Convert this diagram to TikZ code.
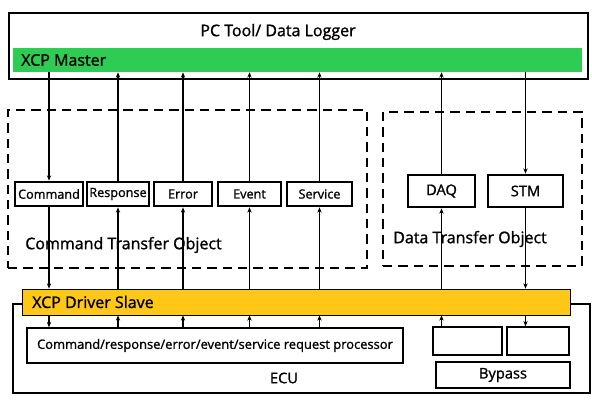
\documentclass[tikz,border=0pt]{standalone}
\usepackage{fontspec}
\setmainfont{Open Sans}[BoldFont={Open Sans}, BoldFeatures={FakeBold=1.3}]
\usetikzlibrary{fit,arrows.meta}
\definecolor{mastergreen}{RGB}{46,204,82}
\definecolor{slaveyellow}{RGB}{255,200,22}
\tikzset{
  box/.style={draw, line width=2pt, inner sep=0pt, label={[font=\fontsize{9.5}{11}\selectfont\bfseries]center:#1}},
  bigbox/.style={draw, line width=2pt, inner sep=0pt, label={[font=\fontsize{11}{13}\selectfont\bfseries]center:#1}},
  thinbox/.style={draw, line width=1pt, inner sep=0pt},
  group/.style={draw, line width=1.9pt, dash pattern=on 7pt off 4.5pt, inner sep=0pt},
  sig/.style={-{Stealth[length=4pt,width=3.2pt]}, line width=1pt},
  big/.style={font=\fontsize{12}{14}\selectfont\bfseries},
}
\begin{document}
\begin{tikzpicture}[x=0.75pt,y=0.75pt,yscale=-1,xscale=1]
\useasboundingbox (0,0) rectangle (592,402);

% PC tool side
\node[thinbox, fit={(9,13) (588,79)}] (pc) {};
\node[big] (pctitle) at (278,32) {PC Tool/ Data Logger};
\node[fill=mastergreen, inner sep=0pt, fit={(13,48) (582,72)}] (master) {};
\node[big, anchor=west, inner sep=0pt] (mastertxt) at (21,60) {XCP Master};

% transfer object groups
\node[group, fit={(8,110) (367,268)}] (cto) {};
\node[group, fit={(383,112) (582,266)}] (dto) {};
\node[big, anchor=west, inner sep=0pt] (ctotxt) at (25,245) {Command Transfer Object};
\node[big, anchor=west, inner sep=0pt] (dtotxt) at (393,239) {Data Transfer Object};

\node[box=Command, fit={(15,182) (83,206)}] (cmd) {};
\node[box=Response, fit={(87,182) (149,206)}] (rsp) {};
\node[box=Error, fit={(154,182) (212,206)}] (err) {};
\node[box=Event, fit={(218,182) (281,206)}] (evt) {};
\node[box=Service, fit={(287,182) (352,206)}] (srv) {};
\node[bigbox=DAQ, fit={(408,175) (475,207)}] (daq) {};
\node[bigbox=STM, fit={(488,175) (563,207)}] (stm) {};

% ECU side
\node[thinbox, fit={(13,304) (590,393)}] (ecu) {};
\node[draw, line width=0.5pt, fill=slaveyellow, inner sep=0pt, fit={(22,289) (570,315)}] (slave) {};
\node[big, anchor=west, inner sep=0pt] (slavetxt) at (32,302) {XCP Driver Slave};
\node[thinbox, label={[font=\fontsize{9.7}{11}\selectfont\bfseries]center:Command/response/error/event/service request processor}, fit={(27,328) (403,363)}] (proc) {};
\node[thinbox, fit={(433,327) (502,355)}] (bufa) {};
\node[thinbox, fit={(507,327) (569,355)}] (bufb) {};
\node[thinbox, label={[font=\fontsize{11}{13}\selectfont\bfseries]center:Bypass}, fit={(436,362) (570,388)}] (bypass) {};
\node[font=\fontsize{11}{13}\selectfont\bfseries] (ecutxt) at (284,378) {ECU};

% master <-> objects
\draw[sig] (cmd.north |- master.south) -- (cmd.north);
\draw[sig] (stm.north |- master.south) -- (stm.north);
\foreach \n in {rsp,err,evt,srv,daq}
  \draw[sig] (\n.north) -- (\n.north |- master.south);

% objects <-> slave
\draw[sig] (cmd.south) -- (cmd.south |- slave.north);
\draw[sig] (stm.south) -- (stm.south |- slave.north);
\foreach \n in {rsp,err,evt,srv,daq}
  \draw[sig] (\n.south |- slave.north) -- (\n.south);

% slave <-> processor and buffers
\draw[sig] (cmd.south |- slave.south) -- (cmd.south |- proc.north);
\foreach \n in {rsp,err,evt,srv}
  \draw[sig] (\n.south |- proc.north) -- (\n.south |- slave.south);
\draw[sig] (daq.south |- bufa.north) -- (daq.south |- slave.south);
\draw[sig] (stm.south |- slave.south) -- (stm.south |- bufb.north);

\end{tikzpicture}
\end{document}
